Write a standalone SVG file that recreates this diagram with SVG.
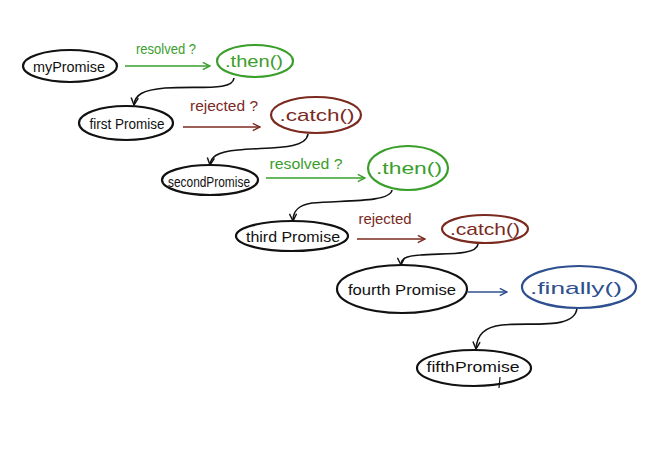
<svg xmlns="http://www.w3.org/2000/svg" width="665" height="464" viewBox="0 0 665 464">
<style>
.node{fill:none;stroke-width:2.2}
.blk{stroke:#111}
.grn{stroke:#3a9e2b}
.brn{stroke:#7a2a1f}
.blu{stroke:#2e4f8f}
text{font-family:"Liberation Sans","DejaVu Sans",sans-serif;dominant-baseline:central;text-anchor:middle}
.t{font-size:15px;fill:#111}
.tg{font-size:17px;fill:#3a9e2b}
.tr{font-size:17px;fill:#7a2a1f}
.tb{font-size:17px;fill:#2e4f8f}
.lbl{font-size:14px}
.conn{fill:none;stroke-width:1.6}
</style>
<defs>
<marker id="ak" viewBox="0 0 10 10" refX="9" refY="5" markerWidth="9" markerHeight="9" orient="auto" markerUnits="userSpaceOnUse"><path d="M1,1 L9,5 L1,9" fill="none" stroke="#111" stroke-width="1.6"/></marker>
<marker id="ag" viewBox="0 0 10 10" refX="9" refY="5" markerWidth="9" markerHeight="9" orient="auto" markerUnits="userSpaceOnUse"><path d="M1,1 L9,5 L1,9" fill="none" stroke="#3a9e2b" stroke-width="1.6"/></marker>
<marker id="ar" viewBox="0 0 10 10" refX="9" refY="5" markerWidth="9" markerHeight="9" orient="auto" markerUnits="userSpaceOnUse"><path d="M1,1 L9,5 L1,9" fill="none" stroke="#7a2a1f" stroke-width="1.6"/></marker>
<marker id="ab" viewBox="0 0 10 10" refX="9" refY="5" markerWidth="9" markerHeight="9" orient="auto" markerUnits="userSpaceOnUse"><path d="M1,1 L9,5 L1,9" fill="none" stroke="#2e4f8f" stroke-width="1.6"/></marker>
</defs>
<rect width="665" height="464" fill="#fff"/>
<g id="connectors">
<path class="conn grn" d="M125,66 L210,66" marker-end="url(#ag)"/>
<text class="tg lbl" x="166" y="49" textLength="60" lengthAdjust="spacingAndGlyphs">resolved ?</text>
<path class="conn blk" d="M234,78 C233,91 200,86 165,88 C142,90 135,95 134,105" marker-end="url(#ak)"/>
<path class="conn brn" d="M183,127 L260,127" marker-end="url(#ar)"/>
<text class="tr lbl" x="224" y="106" textLength="68" lengthAdjust="spacingAndGlyphs">rejected ?</text>
<path class="conn blk" d="M308,134 C306,150 270,147 238,150 C216,152 211,157 210,165" marker-end="url(#ak)"/>
<path class="conn grn" d="M266,178 L365,178" marker-end="url(#ag)"/>
<text class="tg lbl" x="306" y="164" textLength="73" lengthAdjust="spacingAndGlyphs">resolved ?</text>
<path class="conn blk" d="M392,190 C390,203 342,200 312,203 C298,205 293,211 293,221" marker-end="url(#ak)"/>
<path class="conn brn" d="M357,239 L425,239" marker-end="url(#ar)"/>
<text class="tr lbl" x="385" y="219" textLength="53" lengthAdjust="spacingAndGlyphs">rejected</text>
<path class="conn blk" d="M478,244 C477,256 442,253 420,255 C405,256 401,259 401,265" marker-end="url(#ak)"/>
<path class="conn blu" d="M468,292 L507,292" marker-end="url(#ab)"/>
<path class="conn blk" d="M577,308 C575,330 532,322 502,325 C484,327 477,335 476,349" marker-end="url(#ak)"/>
</g>
<g id="myPromise"><ellipse class="node blk" cx="70" cy="66" rx="47" ry="16"/><text class="t" x="69" y="66" textLength="72" lengthAdjust="spacingAndGlyphs">myPromise</text></g>
<g id="then1"><ellipse class="node grn" cx="255" cy="61" rx="38" ry="16"/><text class="tg" x="254" y="61" textLength="58" lengthAdjust="spacingAndGlyphs">.then()</text></g>
<g id="firstPromise"><ellipse class="node blk" cx="126" cy="123" rx="47" ry="17"/><text class="t" x="127" y="123" textLength="75" lengthAdjust="spacingAndGlyphs">first Promise</text></g>
<g id="catch1"><ellipse class="node brn" cx="316" cy="115" rx="45" ry="18"/><text class="tr" x="317" y="115" textLength="75" lengthAdjust="spacingAndGlyphs">.catch()</text></g>
<g id="secondPromise"><ellipse class="node blk" cx="210" cy="180" rx="48" ry="15"/><text class="t" x="209" y="181" font-size="12" textLength="82" lengthAdjust="spacingAndGlyphs">secondPromise</text></g>
<g id="then2"><ellipse class="node grn" cx="408" cy="168" rx="40" ry="22"/><text class="tg" x="409" y="168" textLength="66" lengthAdjust="spacingAndGlyphs">.then()</text></g>
<g id="thirdPromise"><ellipse class="node blk" cx="292" cy="236" rx="56" ry="15"/><text class="t" x="293" y="236" textLength="94" lengthAdjust="spacingAndGlyphs">third Promise</text></g>
<g id="catch2"><ellipse class="node brn" cx="485" cy="229" rx="43" ry="14"/><text class="tr" x="485" y="229" textLength="70" lengthAdjust="spacingAndGlyphs">.catch()</text></g>
<g id="fourthPromise"><ellipse class="node blk" cx="402" cy="289" rx="65" ry="24"/><text class="t" x="402" y="289" font-size="16" textLength="108" lengthAdjust="spacingAndGlyphs">fourth Promise</text></g>
<g id="finally"><ellipse class="node blu" cx="579" cy="287" rx="57" ry="21"/><text class="tb" x="576" y="288" font-size="18" textLength="92" lengthAdjust="spacingAndGlyphs">.finally()</text></g>
<g id="fifthPromise"><ellipse class="node blk" cx="474" cy="368" rx="57" ry="18"/><text class="t" x="473" y="366" font-size="16" textLength="93" lengthAdjust="spacingAndGlyphs">fifthPromise</text></g>
<path d="M500,377 L499,388" stroke="#111" stroke-width="1.2" fill="none"/>
</svg>
